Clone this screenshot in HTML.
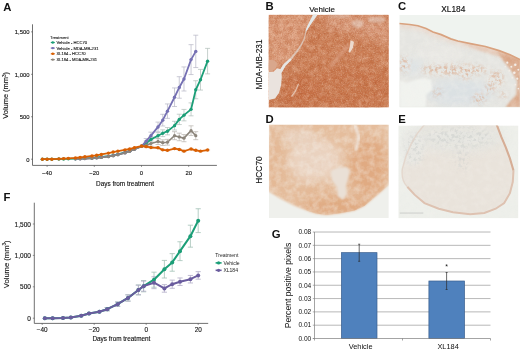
<!DOCTYPE html>
<html lang="en"><head><meta charset="utf-8"><title>Figure</title>
<style>html,body{margin:0;padding:0;background:#fff}svg{display:block}</style></head>
<body>
<svg width="520" height="351" viewBox="0 0 520 351">
<rect width="520" height="351" fill="#fff"/>
<defs>
<filter id="nz" x="0" y="0" width="100%" height="100%" color-interpolation-filters="sRGB">
<feTurbulence type="fractalNoise" baseFrequency="0.85" numOctaves="2" seed="3" result="t"/>
<feColorMatrix in="t" type="matrix" values="0 0 0 0 1  0 0 0 0 0.96  0 0 0 0 0.9  0 0 0 3.2 -1.55"/>
</filter>
<filter id="nzd" x="0" y="0" width="100%" height="100%" color-interpolation-filters="sRGB">
<feTurbulence type="fractalNoise" baseFrequency="0.7" numOctaves="2" seed="11" result="t"/>
<feColorMatrix in="t" type="matrix" values="0 0 0 0 0.62  0 0 0 0 0.30  0 0 0 0 0.16  0 0 0 3.0 -1.5"/>
</filter>
<filter id="nzl" x="0" y="0" width="100%" height="100%" color-interpolation-filters="sRGB">
<feTurbulence type="fractalNoise" baseFrequency="0.16" numOctaves="3" seed="7" result="t"/>
<feColorMatrix in="t" type="matrix" values="0 0 0 0 0.97  0 0 0 0 0.96  0 0 0 0 0.94  0 0 0 2.2 -0.75"/>
</filter>
<filter id="mw" x="0" y="0" width="100%" height="100%" color-interpolation-filters="sRGB">
<feTurbulence type="fractalNoise" baseFrequency="0.17" numOctaves="4" seed="21" result="t"/>
<feColorMatrix in="t" type="matrix" values="0 0 0 0 0.95  0 0 0 0 0.80  0 0 0 0 0.70  0 0 0 2.6 -1.0"/>
</filter>
<filter id="md" x="0" y="0" width="100%" height="100%" color-interpolation-filters="sRGB">
<feTurbulence type="fractalNoise" baseFrequency="0.2" numOctaves="4" seed="5" result="t"/>
<feColorMatrix in="t" type="matrix" values="0 0 0 0 0.70  0 0 0 0 0.33  0 0 0 0 0.15  0 0 0 2.6 -1.0"/>
</filter>
<filter id="spk" x="-10%" y="-10%" width="120%" height="120%" color-interpolation-filters="sRGB">
<feGaussianBlur in="SourceAlpha" stdDeviation="2.5" result="m"/>
<feTurbulence type="fractalNoise" baseFrequency="0.33" numOctaves="3" seed="9" result="t"/>
<feColorMatrix in="t" type="matrix" values="0 0 0 0 0.86  0 0 0 0 0.68  0 0 0 0 0.57  0 0 0 4 -1.7" result="c"/>
<feComposite in="c" in2="m" operator="in"/>
<feGaussianBlur stdDeviation="0.45"/>
</filter>
<filter id="spg" x="-10%" y="-10%" width="120%" height="120%" color-interpolation-filters="sRGB">
<feGaussianBlur in="SourceAlpha" stdDeviation="3" result="m"/>
<feTurbulence type="fractalNoise" baseFrequency="0.3" numOctaves="3" seed="14" result="t"/>
<feColorMatrix in="t" type="matrix" values="0 0 0 0 0.80  0 0 0 0 0.81  0 0 0 0 0.80  0 0 0 5 -2.4" result="c"/>
<feComposite in="c" in2="m" operator="in"/>
<feGaussianBlur stdDeviation="0.4"/>
</filter>
<filter id="b1" x="-20%" y="-20%" width="140%" height="140%"><feGaussianBlur stdDeviation="1"/></filter>
<filter id="b2" x="-20%" y="-20%" width="140%" height="140%"><feGaussianBlur stdDeviation="2.2"/></filter>
<filter id="b4" x="-30%" y="-30%" width="160%" height="160%"><feGaussianBlur stdDeviation="4.5"/></filter>
<filter id="b05" x="-20%" y="-20%" width="140%" height="140%"><feGaussianBlur stdDeviation="0.5"/></filter>
</defs>
<svg x="268.6" y="14.8" width="120.1" height="92.8" viewBox="0 0 120.3 93" preserveAspectRatio="none" overflow="hidden">
<rect width="121" height="93" fill="#cd8058"/>
<path d="M0 0H46L37 18L32 32L22 45L10 55L0 56Z" fill="#dc9d7c" filter="url(#b2)"/>
<path d="M52 0H121V34L104 24L84 18L60 16Z" fill="#dda386" opacity=".8" filter="url(#b4)"/>
<ellipse cx="80" cy="74" rx="44" ry="22" fill="#c67045" opacity=".5" filter="url(#b4)"/>
<ellipse cx="30" cy="78" rx="16" ry="16" fill="#c56a40" opacity=".6" filter="url(#b4)"/>
<rect width="121" height="93" filter="url(#mw)" opacity=".30"/>
<rect width="121" height="93" filter="url(#md)" opacity=".30"/>
<rect width="121" height="93" filter="url(#nz)" opacity=".20"/>
<rect width="121" height="93" filter="url(#nzd)" opacity=".25"/>
<g filter="url(#b1)" fill="#e6d2c6" opacity=".55"><ellipse cx="89" cy="9" rx="6" ry="4"/><ellipse cx="108" cy="5" rx="9" ry="3"/><ellipse cx="70" cy="1.5" rx="12" ry="1.4"/></g>
<g filter="url(#b05)">
<path d="M44.5 0L49 0L44 7L40 13L38.2 16L36 25L32.6 32L29.2 37L23 45L17 51L13 58L10 57L15 49.5L21.5 43.5L28 35.5L31.5 30.5L35 24.5L37 15.5L39 11Z" fill="#e2e4e3" opacity=".6"/>
<path d="M44.5 0L49 0L44 7L40 13L38.4 16L37 15.5L39 11Z" fill="#e4e8e8"/>
<path d="M23 45L17 51L13 58L10 57L15 49.5L21.5 43.5Z" fill="#e6e6e4"/>
<path d="M81 30L72 40L62 52" stroke="#dda58a" stroke-width="4" fill="none" opacity=".55" filter="url(#b1)"/>
<path d="M0 57L5 57L8.5 53.5L12.5 54.5L13.2 62L12.6 70L10.5 78L6.5 84L0 85.5Z" fill="#eae3de"/>
<path d="M0 45L6 45.5L8.5 49L7.5 53L3.5 56.5L0 56.5Z" fill="#d9a78c"/>
<path d="M82 25.5L85.5 27L84.5 33L81.5 38L80 37L81.5 31Z" fill="#eedfd5" opacity=".95"/>
<path d="M30 69L27 76L23 82" stroke="#e9cdbd" stroke-width="1.3" fill="none" opacity=".8"/>
</g>
</svg>
<svg x="399.3" y="14.8" width="120.7" height="92.8" viewBox="0 0 120.7 93" preserveAspectRatio="none" overflow="hidden">
<rect width="121" height="93" fill="#eff3ef"/>
<clipPath id="cc"><path d="M0 8.7L10.4 9.7L18.6 11L26.8 13.8L33.7 17.2L41.9 19.9L51.5 24.1L58.5 26.3L72.4 29.1L86.1 31.8L99.8 35.9L110.7 40.1L121 45V93H0Z"/></clipPath>
<g clip-path="url(#cc)">
<rect width="121" height="93" fill="#e5e5e1"/>
<path d="M0 8.7L10.4 9.7L18.6 11L26.8 13.8L33.7 17.2L41.9 19.9L51.5 24.1L58.5 26.3L72.4 29.1L86.1 31.8L99.8 35.9L110.7 40.1L121 45" stroke="#ecd6c8" stroke-width="8" fill="none" opacity=".7" filter="url(#b2)"/>
<path d="M60 27L86 32L100 36L121 45V56L100 42L80 36Z" fill="#e3b9a0" opacity=".5" filter="url(#b1)"/>
<ellipse cx="40" cy="40" rx="26" ry="10" fill="#e9e8e4" opacity=".8" filter="url(#b4)"/>
<ellipse cx="60" cy="78" rx="34" ry="14" fill="#d9e0e4" opacity=".8" filter="url(#b4)"/>
<ellipse cx="12" cy="52" rx="12" ry="8" fill="#dde3e6" opacity=".8" filter="url(#b4)"/>
<g filter="url(#spk)" fill="#000" opacity=".8">
<ellipse cx="55" cy="55" rx="34" ry="5"/>
<ellipse cx="67" cy="58" rx="7" ry="6"/>
<ellipse cx="97" cy="64" rx="7" ry="8"/>
<ellipse cx="80" cy="84" rx="6" ry="5"/>
<ellipse cx="38" cy="78" rx="4" ry="3"/>
<ellipse cx="104" cy="80" rx="3" ry="3"/>
<ellipse cx="5" cy="50" rx="5" ry="8"/>
<ellipse cx="90" cy="74" rx="4" ry="4"/>
</g>
<path d="M98 36L110.7 40.1L121 45V93H106L110 88L117 80L118 66L112 56L104 46Z" fill="#d9a483" filter="url(#b1)" opacity=".9"/>
<g fill="#f3ece6" filter="url(#b05)">
<circle cx="108" cy="48" r="1.1"/>
<circle cx="112" cy="52" r="1"/>
<circle cx="116" cy="50" r="1.2"/>
<circle cx="110" cy="56" r="1"/>
<circle cx="115" cy="58" r="1.3"/>
<circle cx="119" cy="55" r="1"/>
<circle cx="113" cy="63" r="1"/>
<circle cx="118" cy="64" r="1.1"/>
<circle cx="116" cy="70" r="0.9"/>
<circle cx="119" cy="74" r="0.8"/>
<circle cx="106" cy="52" r="0.8"/>
</g>
<path d="M0 66L8 68L16 65L24 63.5L32 65L33 75L27 80L26.5 93H0Z" fill="#f1f3ef" filter="url(#b1)"/>
<rect width="121" height="93" filter="url(#nzl)" opacity=".25"/>
</g>
<path d="M0 8.7L10.4 9.7L18.6 11L26.8 13.8L33.7 17.2L41.9 19.9L51.5 24.1L58.5 26.3L72.4 29.1L86.1 31.8L99.8 35.9L110.7 40.1L121 45" stroke="#d9a27f" stroke-width="1.7" fill="none" filter="url(#b05)"/>
</svg>
<svg x="268.9" y="124.8" width="119.9" height="93.3" viewBox="0 0 120 93.6" preserveAspectRatio="none" overflow="hidden">
<rect width="120" height="94" fill="#eff0ec"/>
<path d="M0 -2H120V59.7L114.3 65.4L104.3 74L95.8 81.1L85.8 86.1L71.5 88.8L57.2 90.5L47 89L40.1 86.8L25.8 81.1L11.5 74L0 66.8Z" fill="#e5bd9c" filter="url(#b1)"/>
<clipPath id="cd"><path d="M0 -2H120V59.7L114.3 65.4L104.3 74L95.8 81.1L85.8 86.1L71.5 88.8L57.2 90.5L47 89L40.1 86.8L25.8 81.1L11.5 74L0 66.8Z"/></clipPath>
<g clip-path="url(#cd)">
<ellipse cx="46" cy="36" rx="27" ry="23" fill="#ecd8c8" opacity=".8" filter="url(#b4)"/>
<ellipse cx="30" cy="12" rx="16" ry="8" fill="#ead5c5" opacity=".8" filter="url(#b4)"/>
<ellipse cx="100" cy="42" rx="20" ry="30" fill="#dfa67c" opacity=".8" filter="url(#b4)"/>
<ellipse cx="70" cy="82" rx="36" ry="10" fill="#dfa77e" opacity=".85" filter="url(#b4)"/>
<ellipse cx="50" cy="68" rx="14" ry="10" fill="#e3b591" opacity=".6" filter="url(#b4)"/>
<ellipse cx="5" cy="40" rx="7" ry="28" fill="#e3b591" opacity=".7" filter="url(#b4)"/>
<path d="M86 0L90 12L87 26" stroke="#eee0d4" stroke-width="3" fill="none" filter="url(#b1)"/>
<rect width="120" height="94" filter="url(#nzl)" opacity=".35"/>
</g>
<path d="M62 46L69 43L78 42L81 47L79 56L77 62L78 70L74 75L69 72L68 63L63 56Z" fill="#eae0d6" filter="url(#b1)"/>
</svg>
<svg x="398.3" y="125.4" width="119.9" height="92.8" viewBox="0 0 120 93.8" preserveAspectRatio="none" overflow="hidden">
<rect width="122" height="94" fill="#edefea"/>
<path d="M27 -2C17 9 8 26 4 44C3 52 5 58 9 62L16.2 70L26.2 78.5L40.5 84.2L54.7 87.7L71.9 89.9L86.1 88.5L97.5 84.2L106 78.5L111.7 68.5L114.6 57L115.3 45.6L111.7 33.3L107.5 21.9L103.2 11.9L98 -2Z" fill="#e9e3db"/>
<ellipse cx="58" cy="12" rx="50" ry="16" fill="#e5e5e0" opacity=".9" filter="url(#b4)"/>
<ellipse cx="14" cy="22" rx="12" ry="18" fill="#e8e8e4" opacity=".8" filter="url(#b2)"/>
<rect width="122" height="94" filter="url(#nzl)" opacity=".2"/>
<g filter="url(#spg)" fill="#000" opacity=".55"><ellipse cx="62" cy="12" rx="34" ry="10"/><ellipse cx="16" cy="24" rx="9" ry="16"/><ellipse cx="64" cy="34" rx="6" ry="12"/></g>
<path d="M9 62L16.2 70L26.2 78.5L40.5 84.2L54.7 87.7L71.9 89.9L86.1 88.5L97.5 84.2L106 78.5L111.7 68.5L114.6 57L115.3 45.6" fill="none" stroke="#dec2b1" stroke-width="2" filter="url(#b05)"/>
<path d="M27 -2C17 9 8 26 4 44C3 52 5 58 9 62" fill="none" stroke="#e2d3c8" stroke-width="1.4" opacity=".8" filter="url(#b05)"/>
<path d="M98 -2L103.2 11.9L107.5 21.9L111.7 33.3L115.3 45.6" fill="none" stroke="#d6ad95" stroke-width="2.1" filter="url(#b05)"/>
<path d="M1.5 88.6H25" stroke="#a8a8a8" stroke-width="0.45"/>
</svg>
<g font-family='"Liberation Sans", Arial, Helvetica, sans-serif'>
<text x="3.2" y="10.9" font-size="11.3" font-weight="bold" fill="#111">A</text>
<path d="M32.5 24.3V165.4H216.9" stroke="#4d4d4d" stroke-width="0.8" fill="none"/>
<path d="M31 159.2H32.5M31 116.75H32.5M31 74.3H32.5M31 31.85H32.5M47.1 165.4V166.9M94.3 165.4V166.9M141.5 165.4V166.9M188.7 165.4V166.9" stroke="#4d4d4d" stroke-width="0.6" fill="none"/>
<g font-size="5.9" fill="#111" stroke="#111" stroke-width=".12" text-anchor="end">
<text x="29.5" y="161.5">0</text>
<text x="29.5" y="119.05">500</text>
<text x="29.5" y="76.6">1,000</text>
<text x="29.5" y="34.15">1,500</text>
</g>
<g font-size="5.9" fill="#111" stroke="#111" stroke-width=".12" text-anchor="middle">
<text x="47.1" y="174.8">−40</text>
<text x="94.3" y="174.8">−20</text>
<text x="141.5" y="174.8">0</text>
<text x="188.7" y="174.8">20</text>
</g>
<text x="125" y="186.3" font-size="6.4" fill="#111" stroke="#111" stroke-width=".12" text-anchor="middle">Days from treatment</text>
<text transform="translate(8.1 95.4) rotate(-90)" font-size="7.45" fill="#111" stroke="#111" stroke-width=".12" text-anchor="middle">Volume (mm<tspan font-size="4.6" dy="-2.4">3</tspan><tspan dy="2.4">)</tspan></text>
<path d="M146.22 140.97V145.17M143.72 140.97H148.72M143.72 145.17H148.72M150.94 136.85V141.99M148.44 136.85H153.44M148.44 141.99H153.44M158.02 132.63V138.74M155.52 132.63H160.52M155.52 138.74H160.52M162.74 129.84V136.6M160.24 129.84H165.24M160.24 136.6H165.24M167.46 127.54V134.83M164.96 127.54H169.96M164.96 134.83H169.96M174.54 121.3V130.02M172.04 121.3H177.04M172.04 130.02H177.04M179.26 114.21V124.56M176.76 114.21H181.76M176.76 124.56H181.76M183.98 109.41V120.87M181.48 109.41H186.48M181.48 120.87H186.48M191.06 102.88V115.84M188.56 102.88H193.56M188.56 115.84H193.56M195.78 80.72V98.78M193.28 80.72H198.28M193.28 98.78H198.28M200.5 69.4V90.06M198 69.4H203M198 90.06H203M207.58 48.39V73.89M205.08 48.39H210.08M205.08 73.89H210.08" stroke="#afbdb7" stroke-width="0.7" fill="none"/>
<path d="M146.22 138.5V143.9M143.72 138.5H148.72M143.72 143.9H148.72M150.94 132.16V139.21M148.44 132.16H153.44M148.44 139.21H153.44M158.02 122.1V131.78M155.52 122.1H160.52M155.52 131.78H160.52M162.74 114.29V126M160.24 114.29H165.24M160.24 126H165.24M167.46 103.94V118.35M164.96 103.94H169.96M164.96 118.35H169.96M174.54 87.93V106.52M172.04 87.93H177.04M172.04 106.52H177.04M179.26 76.7V98.22M176.76 76.7H181.76M176.76 98.22H181.76M183.98 66.93V91M181.48 66.93H186.48M181.48 91H186.48M191.06 44.67V74.55M188.56 44.67H193.56M188.56 74.55H193.56M195.78 35.2V67.55M193.28 35.2H198.28M193.28 67.55H198.28" stroke="#b5b5c4" stroke-width="0.7" fill="none"/>
<path d="M146.22 146.04V147.23M143.72 146.04H148.72M143.72 147.23H148.72M150.94 146.89V148.08M148.44 146.89H153.44M148.44 148.08H153.44M158.02 147.14V148.33M155.52 147.14H160.52M155.52 148.33H160.52M162.74 149.27V150.46M160.24 149.27H165.24M160.24 150.46H165.24M167.46 149.69V150.88M164.96 149.69H169.96M164.96 150.88H169.96M174.54 147.99V149.18M172.04 147.99H177.04M172.04 149.18H177.04M179.26 148.84V150.03M176.76 148.84H181.76M176.76 150.03H181.76M183.98 150.54V151.73M181.48 150.54H186.48M181.48 151.73H186.48M191.06 148.42V149.61M188.56 148.42H193.56M188.56 149.61H193.56M195.78 149.69V150.88M193.28 149.69H198.28M193.28 150.88H198.28M200.5 150.54V151.73M198 150.54H203M198 151.73H203M207.58 149.44V150.63M205.08 149.44H210.08M205.08 150.63H210.08" stroke="#d9c0b0" stroke-width="0.7" fill="none"/>
<path d="M146.22 142.81V147.57M143.72 142.81H148.72M143.72 147.57H148.72M150.94 140.82V146.16M148.44 140.82H153.44M148.44 146.16H153.44M158.02 138.44V144.47M155.52 138.44H160.52M155.52 144.47H160.52M162.74 139.83V145.46M160.24 139.83H165.24M160.24 145.46H165.24M167.46 139.33V145.11M164.96 139.33H169.96M164.96 145.11H169.96M174.54 131.68V139.68M172.04 131.68H177.04M172.04 139.68H177.04M179.26 133.17V140.74M176.76 133.17H181.76M176.76 140.74H181.76M183.98 134.57V141.72M181.48 134.57H186.48M181.48 141.72H186.48M191.06 125.82V135.52M188.56 125.82H193.56M188.56 135.52H193.56M195.78 131.68V139.68M193.28 131.68H198.28M193.28 139.68H198.28" stroke="#b6b2ac" stroke-width="0.7" fill="none"/>
<polyline points="42.38,159.2 47.1,159.2 51.82,159.2 58.9,159.03 63.62,158.95 68.34,158.86 75.42,158.69 80.14,158.52 84.86,158.35 91.94,157.93 96.66,157.5 101.38,156.99 108.46,156.14 113.18,155.29 117.9,154.28 124.98,152.41 129.7,150.88 134.42,149.01 141.5,146.3 146.22,143.07 150.94,139.42 158.02,135.68 162.74,133.22 167.46,131.18 174.54,125.66 179.26,119.38 183.98,115.14 191.06,109.36 195.78,89.75 200.5,79.73 207.58,61.14" fill="none" stroke="#1b9e77" stroke-width="1.8" stroke-linejoin="round" stroke-linecap="round"/>
<g fill="#1b9e77"><circle cx="42.38" cy="159.2" r="1.7"/><circle cx="47.1" cy="159.2" r="1.7"/><circle cx="51.82" cy="159.2" r="1.7"/><circle cx="58.9" cy="159.03" r="1.7"/><circle cx="63.62" cy="158.95" r="1.7"/><circle cx="68.34" cy="158.86" r="1.7"/><circle cx="75.42" cy="158.69" r="1.7"/><circle cx="80.14" cy="158.52" r="1.7"/><circle cx="84.86" cy="158.35" r="1.7"/><circle cx="91.94" cy="157.93" r="1.7"/><circle cx="96.66" cy="157.5" r="1.7"/><circle cx="101.38" cy="156.99" r="1.7"/><circle cx="108.46" cy="156.14" r="1.7"/><circle cx="113.18" cy="155.29" r="1.7"/><circle cx="117.9" cy="154.28" r="1.7"/><circle cx="124.98" cy="152.41" r="1.7"/><circle cx="129.7" cy="150.88" r="1.7"/><circle cx="134.42" cy="149.01" r="1.7"/><circle cx="141.5" cy="146.3" r="1.7"/><circle cx="146.22" cy="143.07" r="1.7"/><circle cx="150.94" cy="139.42" r="1.7"/><circle cx="158.02" cy="135.68" r="1.7"/><circle cx="162.74" cy="133.22" r="1.7"/><circle cx="167.46" cy="131.18" r="1.7"/><circle cx="174.54" cy="125.66" r="1.7"/><circle cx="179.26" cy="119.38" r="1.7"/><circle cx="183.98" cy="115.14" r="1.7"/><circle cx="191.06" cy="109.36" r="1.7"/><circle cx="195.78" cy="89.75" r="1.7"/><circle cx="200.5" cy="79.73" r="1.7"/><circle cx="207.58" cy="61.14" r="1.7"/></g>
<polyline points="75.42,158.78 80.14,158.69 84.86,158.52 91.94,158.18 96.66,157.84 101.38,157.33 108.46,156.48 113.18,155.63 117.9,154.62 124.98,152.75 129.7,151.13 134.42,149.18 141.5,146.3 146.22,141.2 150.94,135.68 158.02,126.94 162.74,120.15 167.46,111.15 174.54,97.22 179.26,87.46 183.98,78.97 191.06,59.61 195.78,51.38" fill="none" stroke="#7570b3" stroke-width="1.8" stroke-linejoin="round" stroke-linecap="round"/>
<g fill="#7570b3"><circle cx="75.42" cy="158.78" r="1.7"/><circle cx="80.14" cy="158.69" r="1.7"/><circle cx="84.86" cy="158.52" r="1.7"/><circle cx="91.94" cy="158.18" r="1.7"/><circle cx="96.66" cy="157.84" r="1.7"/><circle cx="101.38" cy="157.33" r="1.7"/><circle cx="108.46" cy="156.48" r="1.7"/><circle cx="113.18" cy="155.63" r="1.7"/><circle cx="117.9" cy="154.62" r="1.7"/><circle cx="124.98" cy="152.75" r="1.7"/><circle cx="129.7" cy="151.13" r="1.7"/><circle cx="134.42" cy="149.18" r="1.7"/><circle cx="141.5" cy="146.3" r="1.7"/><circle cx="146.22" cy="141.2" r="1.7"/><circle cx="150.94" cy="135.68" r="1.7"/><circle cx="158.02" cy="126.94" r="1.7"/><circle cx="162.74" cy="120.15" r="1.7"/><circle cx="167.46" cy="111.15" r="1.7"/><circle cx="174.54" cy="97.22" r="1.7"/><circle cx="179.26" cy="87.46" r="1.7"/><circle cx="183.98" cy="78.97" r="1.7"/><circle cx="191.06" cy="59.61" r="1.7"/><circle cx="195.78" cy="51.38" r="1.7"/></g>
<polyline points="75.42,158.86 80.14,158.78 84.86,158.61 91.94,158.35 96.66,158.01 101.38,157.5 108.46,156.65 113.18,155.8 117.9,154.79 124.98,152.92 129.7,151.3 134.42,149.35 141.5,146.3 146.22,145.19 150.94,143.49 158.02,141.46 162.74,142.64 167.46,142.22 174.54,135.68 179.26,136.96 183.98,138.14 191.06,130.67 195.78,135.68" fill="none" stroke="#8c857b" stroke-width="1.6" stroke-linejoin="round" stroke-linecap="round"/>
<g fill="#8c857b"><circle cx="75.42" cy="158.86" r="1.6"/><circle cx="80.14" cy="158.78" r="1.6"/><circle cx="84.86" cy="158.61" r="1.6"/><circle cx="91.94" cy="158.35" r="1.6"/><circle cx="96.66" cy="158.01" r="1.6"/><circle cx="101.38" cy="157.5" r="1.6"/><circle cx="108.46" cy="156.65" r="1.6"/><circle cx="113.18" cy="155.8" r="1.6"/><circle cx="117.9" cy="154.79" r="1.6"/><circle cx="124.98" cy="152.92" r="1.6"/><circle cx="129.7" cy="151.3" r="1.6"/><circle cx="134.42" cy="149.35" r="1.6"/><circle cx="141.5" cy="146.3" r="1.6"/><circle cx="146.22" cy="145.19" r="1.6"/><circle cx="150.94" cy="143.49" r="1.6"/><circle cx="158.02" cy="141.46" r="1.6"/><circle cx="162.74" cy="142.64" r="1.6"/><circle cx="167.46" cy="142.22" r="1.6"/><circle cx="174.54" cy="135.68" r="1.6"/><circle cx="179.26" cy="136.96" r="1.6"/><circle cx="183.98" cy="138.14" r="1.6"/><circle cx="191.06" cy="130.67" r="1.6"/><circle cx="195.78" cy="135.68" r="1.6"/></g>
<polyline points="42.38,159.2 47.1,159.2 51.82,159.2 58.9,158.86 63.62,158.61 68.34,158.35 75.42,157.84 80.14,157.33 84.86,156.82 91.94,155.97 96.66,155.29 101.38,154.45 108.46,153.09 113.18,152.07 117.9,151.13 124.98,149.86 129.7,149.01 134.42,147.74 141.5,146.04 146.22,146.63 150.94,147.48 158.02,147.74 162.74,149.86 167.46,150.29 174.54,148.59 179.26,149.44 183.98,151.13 191.06,149.01 195.78,150.29 200.5,151.13 207.58,150.03" fill="none" stroke="#d95f02" stroke-width="1.8" stroke-linejoin="round" stroke-linecap="round"/>
<g fill="#d95f02"><circle cx="42.38" cy="159.2" r="1.7"/><circle cx="47.1" cy="159.2" r="1.7"/><circle cx="51.82" cy="159.2" r="1.7"/><circle cx="58.9" cy="158.86" r="1.7"/><circle cx="63.62" cy="158.61" r="1.7"/><circle cx="68.34" cy="158.35" r="1.7"/><circle cx="75.42" cy="157.84" r="1.7"/><circle cx="80.14" cy="157.33" r="1.7"/><circle cx="84.86" cy="156.82" r="1.7"/><circle cx="91.94" cy="155.97" r="1.7"/><circle cx="96.66" cy="155.29" r="1.7"/><circle cx="101.38" cy="154.45" r="1.7"/><circle cx="108.46" cy="153.09" r="1.7"/><circle cx="113.18" cy="152.07" r="1.7"/><circle cx="117.9" cy="151.13" r="1.7"/><circle cx="124.98" cy="149.86" r="1.7"/><circle cx="129.7" cy="149.01" r="1.7"/><circle cx="134.42" cy="147.74" r="1.7"/><circle cx="141.5" cy="146.04" r="1.7"/><circle cx="146.22" cy="146.63" r="1.7"/><circle cx="150.94" cy="147.48" r="1.7"/><circle cx="158.02" cy="147.74" r="1.7"/><circle cx="162.74" cy="149.86" r="1.7"/><circle cx="167.46" cy="150.29" r="1.7"/><circle cx="174.54" cy="148.59" r="1.7"/><circle cx="179.26" cy="149.44" r="1.7"/><circle cx="183.98" cy="151.13" r="1.7"/><circle cx="191.06" cy="149.01" r="1.7"/><circle cx="195.78" cy="150.29" r="1.7"/><circle cx="200.5" cy="151.13" r="1.7"/><circle cx="207.58" cy="150.03" r="1.7"/></g>
<text x="50.1" y="38.5" font-size="4.1" fill="#222" stroke="#222" stroke-width=".1">Treatment</text>
<path d="M50.8 42.5H54.8" stroke="#1b9e77" stroke-width="1.2"/><circle cx="52.8" cy="42.5" r="1.2" fill="#1b9e77"/>
<text x="56.4" y="43.95" font-size="4.15" fill="#111" stroke="#111" stroke-width=".1">Vehicle - HCC70</text>
<path d="M50.8 48.1H54.8" stroke="#7570b3" stroke-width="1.2"/><circle cx="52.8" cy="48.1" r="1.2" fill="#7570b3"/>
<text x="56.4" y="49.550000000000004" font-size="4.15" fill="#111" stroke="#111" stroke-width=".1">Vehicle - MDA-MB-231</text>
<path d="M50.8 53.8H54.8" stroke="#d95f02" stroke-width="1.2"/><circle cx="52.8" cy="53.8" r="1.2" fill="#d95f02"/>
<text x="56.4" y="55.25" font-size="4.15" fill="#111" stroke="#111" stroke-width=".1">XL184 - HCC70</text>
<path d="M50.8 59.6H54.8" stroke="#8c857b" stroke-width="1.2"/><circle cx="52.8" cy="59.6" r="1.2" fill="#8c857b"/>
<text x="56.4" y="61.050000000000004" font-size="4.15" fill="#111" stroke="#111" stroke-width=".1">XL184 - MDA-MB-231</text>
<text x="3.6" y="201.3" font-size="11.3" font-weight="bold" fill="#111">F</text>
<path d="M34.3 202.7V323.4H208.2" stroke="#4d4d4d" stroke-width="0.8" fill="none"/>
<path d="M32.8 318.2H34.3M32.8 286.8H34.3M32.8 255.4H34.3M32.8 224H34.3M42.2 323.4V324.9M94.2 323.4V324.9M146.2 323.4V324.9M198.2 323.4V324.9" stroke="#4d4d4d" stroke-width="0.6" fill="none"/>
<g font-size="6.5" fill="#111" stroke="#111" stroke-width=".12" text-anchor="end">
<text x="30.9" y="320.8">0</text>
<text x="30.9" y="289.4">500</text>
<text x="30.9" y="258">1,000</text>
<text x="30.9" y="226.6">1,500</text>
</g>
<g font-size="6.4" fill="#111" stroke="#111" stroke-width=".12" text-anchor="middle">
<text x="42.2" y="331.8">−40</text>
<text x="94.2" y="331.8">−20</text>
<text x="146.2" y="331.8">0</text>
<text x="198.2" y="331.8">20</text>
</g>
<text x="121.4" y="340.6" font-size="6.4" fill="#111" stroke="#111" stroke-width=".12" text-anchor="middle">Days from treatment</text>
<text x="125" y="188.5" font-size="6.4" fill="#111" stroke="#111" stroke-width=".12" text-anchor="middle" opacity="0"></text>
<text transform="translate(8.5 264.3) rotate(-90)" font-size="7.6" fill="#111" stroke="#111" stroke-width=".12" text-anchor="middle">Volume (mm<tspan font-size="4.6" dy="-2.4">3</tspan><tspan dy="2.4">)</tspan></text>
<path d="M107.2 307.65V310.79M104.6 307.65H109.8M104.6 310.79H109.8M117.6 302V306.39M115 302H120.2M115 306.39H120.2M128 294.84V301.12M125.4 294.84H130.6M125.4 301.12H130.6M138.4 284.92V294.96M135.8 284.92H141M135.8 294.96H141M143.6 280.52V291.82M141 280.52H146.2M141 291.82H146.2M154 272.17V287.24M151.4 272.17H156.6M151.4 287.24H156.6M164.4 260.42V278.01M161.8 260.42H167M161.8 278.01H167M172.2 253.64V271.23M169.6 253.64H174.8M169.6 271.23H174.8M180 241.77V260.61M177.4 241.77H182.6M177.4 260.61H182.6M190.4 225.19V247.17M187.8 225.19H193M187.8 247.17H193M198.2 208.74V232.6M195.6 208.74H200.8M195.6 232.6H200.8" stroke="#a3c2b6" stroke-width="0.8" fill="none"/>
<path d="M107.2 307.65V310.79M104.6 307.65H109.8M104.6 310.79H109.8M117.6 302V306.39M115 302H120.2M115 306.39H120.2M128 294.84V301.12M125.4 294.84H130.6M125.4 301.12H130.6M138.4 285.23V294.65M135.8 285.23H141M135.8 294.65H141M143.6 281.15V291.2M141 281.15H146.2M141 291.2H146.2M154 276.75V288.68M151.4 276.75H156.6M151.4 288.68H156.6M164.4 284.66V292.2M161.8 284.66H167M161.8 292.2H167M172.2 280.14V288.31M169.6 280.14H174.8M169.6 288.31H174.8M180 277.95V285.48M177.4 277.95H182.6M177.4 285.48H182.6M190.4 275.43V282.97M187.8 275.43H193M187.8 282.97H193M198.2 271.67V279.2M195.6 271.67H200.8M195.6 279.2H200.8" stroke="#b1acc6" stroke-width="0.8" fill="none"/>
<polyline points="44.8,318.2 52.6,318.2 63,317.89 70.8,317.45 81.2,315.81 89,313.43 99.4,311.73 107.2,309.22 117.6,304.2 128,297.98 138.4,289.94 143.6,286.17 154,279.7 164.4,269.22 172.2,262.43 180,251.19 190.4,236.18 198.2,220.67" fill="none" stroke="#1b9e77" stroke-width="2" stroke-linejoin="round" stroke-linecap="round"/>
<g fill="#1b9e77"><circle cx="44.8" cy="318.2" r="2"/><circle cx="52.6" cy="318.2" r="2"/><circle cx="63" cy="317.89" r="2"/><circle cx="70.8" cy="317.45" r="2"/><circle cx="81.2" cy="315.81" r="2"/><circle cx="89" cy="313.43" r="2"/><circle cx="99.4" cy="311.73" r="2"/><circle cx="107.2" cy="309.22" r="2"/><circle cx="117.6" cy="304.2" r="2"/><circle cx="128" cy="297.98" r="2"/><circle cx="138.4" cy="289.94" r="2"/><circle cx="143.6" cy="286.17" r="2"/><circle cx="154" cy="279.7" r="2"/><circle cx="164.4" cy="269.22" r="2"/><circle cx="172.2" cy="262.43" r="2"/><circle cx="180" cy="251.19" r="2"/><circle cx="190.4" cy="236.18" r="2"/><circle cx="198.2" cy="220.67" r="2"/></g>
<polyline points="44.8,318.2 52.6,318.2 63,317.89 70.8,317.45 81.2,315.81 89,313.43 99.4,311.73 107.2,309.22 117.6,304.2 128,297.98 138.4,289.94 143.6,286.17 154,282.72 164.4,288.43 172.2,284.23 180,281.71 190.4,279.2 198.2,275.43" fill="none" stroke="#6a5c9e" stroke-width="2" stroke-linejoin="round" stroke-linecap="round"/>
<g fill="#6a5c9e"><circle cx="44.8" cy="318.2" r="2"/><circle cx="52.6" cy="318.2" r="2"/><circle cx="63" cy="317.89" r="2"/><circle cx="70.8" cy="317.45" r="2"/><circle cx="81.2" cy="315.81" r="2"/><circle cx="89" cy="313.43" r="2"/><circle cx="99.4" cy="311.73" r="2"/><circle cx="107.2" cy="309.22" r="2"/><circle cx="117.6" cy="304.2" r="2"/><circle cx="128" cy="297.98" r="2"/><circle cx="138.4" cy="289.94" r="2"/><circle cx="143.6" cy="286.17" r="2"/><circle cx="154" cy="282.72" r="2"/><circle cx="164.4" cy="288.43" r="2"/><circle cx="172.2" cy="284.23" r="2"/><circle cx="180" cy="281.71" r="2"/><circle cx="190.4" cy="279.2" r="2"/><circle cx="198.2" cy="275.43" r="2"/></g>
<text x="215.3" y="256.6" font-size="5.1" fill="#222">Treatment</text>
<path d="M215.6 262.9H221.6" stroke="#1b9e77" stroke-width="1.6"/><circle cx="218.6" cy="262.9" r="1.6" fill="#1b9e77"/>
<text x="223.4" y="264.7" font-size="5.05" fill="#222">Vehicle</text>
<path d="M215.6 270.3H221.6" stroke="#6a5c9e" stroke-width="1.6"/><circle cx="218.6" cy="270.3" r="1.6" fill="#6a5c9e"/>
<text x="223.4" y="272.1" font-size="5.05" fill="#222">XL184</text>
<text x="271.8" y="238.3" font-size="11.3" font-weight="bold" fill="#111">G</text>
<path d="M314.5 325.19H490.5M314.5 311.88H490.5M314.5 298.57H490.5M314.5 285.26H490.5M314.5 271.95H490.5M314.5 258.64H490.5M314.5 245.33H490.5M314.5 232.02H490.5" stroke="#9a9a9a" stroke-width="0.7" fill="none"/>
<g font-size="6.6" fill="#111" text-anchor="end">
<text x="311.3" y="340.8">0.00</text>
<text x="311.3" y="327.49">0.01</text>
<text x="311.3" y="314.18">0.02</text>
<text x="311.3" y="300.87">0.03</text>
<text x="311.3" y="287.56">0.04</text>
<text x="311.3" y="274.25">0.05</text>
<text x="311.3" y="260.94">0.06</text>
<text x="311.3" y="247.63">0.07</text>
<text x="311.3" y="234.32">0.08</text>
</g>
<rect x="341.4" y="252.65" width="35.6" height="85.85" fill="#4f81bd" stroke="#3a5f8f" stroke-width="0.7"/>
<rect x="428.9" y="281" width="35.6" height="57.5" fill="#4f81bd" stroke="#3a5f8f" stroke-width="0.7"/>
<path d="M314.5 232V338.5H490.5M312.8 338.5H314.5M402.5 338.5V340.5M490.5 338.5V340.5M314.5 338.5V340.5" stroke="#7d7d7d" stroke-width="0.7" fill="none"/>
<path d="M312.8 338.5H314.5M312.8 325.19H314.5M312.8 311.88H314.5M312.8 298.57H314.5M312.8 285.26H314.5M312.8 271.95H314.5M312.8 258.64H314.5M312.8 245.33H314.5M312.8 232.02H314.5" stroke="#7d7d7d" stroke-width="0.6" fill="none"/>
<path d="M359.2 244.2V261.3M358.2 244.2H360.2M358.2 261.3H360.2M446.6 272.5V289.5M445.6 272.5H447.6M445.6 289.5H447.6" stroke="#2b2b2b" stroke-width="0.7" fill="none"/>
<text x="446.6" y="269.3" font-size="7" fill="#111" text-anchor="middle">*</text>
<text x="360.6" y="348.6" font-size="7.4" fill="#111" text-anchor="middle">Vehicle</text>
<text x="448.1" y="348.6" font-size="7.4" fill="#111" text-anchor="middle">XL184</text>
<text transform="translate(291 285.5) rotate(-90)" font-size="8.6" fill="#111" text-anchor="middle">Percent positive pixels</text>
<text x="265.4" y="10.1" font-size="11.3" font-weight="bold" fill="#111">B</text>
<text x="398.1" y="10.2" font-size="11.3" font-weight="bold" fill="#111">C</text>
<text x="265.4" y="122.7" font-size="11.3" font-weight="bold" fill="#111">D</text>
<text x="398.2" y="122.9" font-size="11.3" font-weight="bold" fill="#111">E</text>
<text x="309.2" y="11.5" font-size="8" fill="#111" stroke="#111" stroke-width=".15">Vehicle</text>
<text x="441.3" y="11.5" font-size="8.3" fill="#111" stroke="#111" stroke-width=".15">XL184</text>
<text transform="translate(262.2 64.5) rotate(-90)" font-size="8.25" fill="#111" stroke="#111" stroke-width=".12" text-anchor="middle">MDA-MB-231</text>
<text transform="translate(262.4 170) rotate(-90)" font-size="8.4" fill="#111" stroke="#111" stroke-width=".12" text-anchor="middle">HCC70</text>
</g>
</svg>
</body></html>
